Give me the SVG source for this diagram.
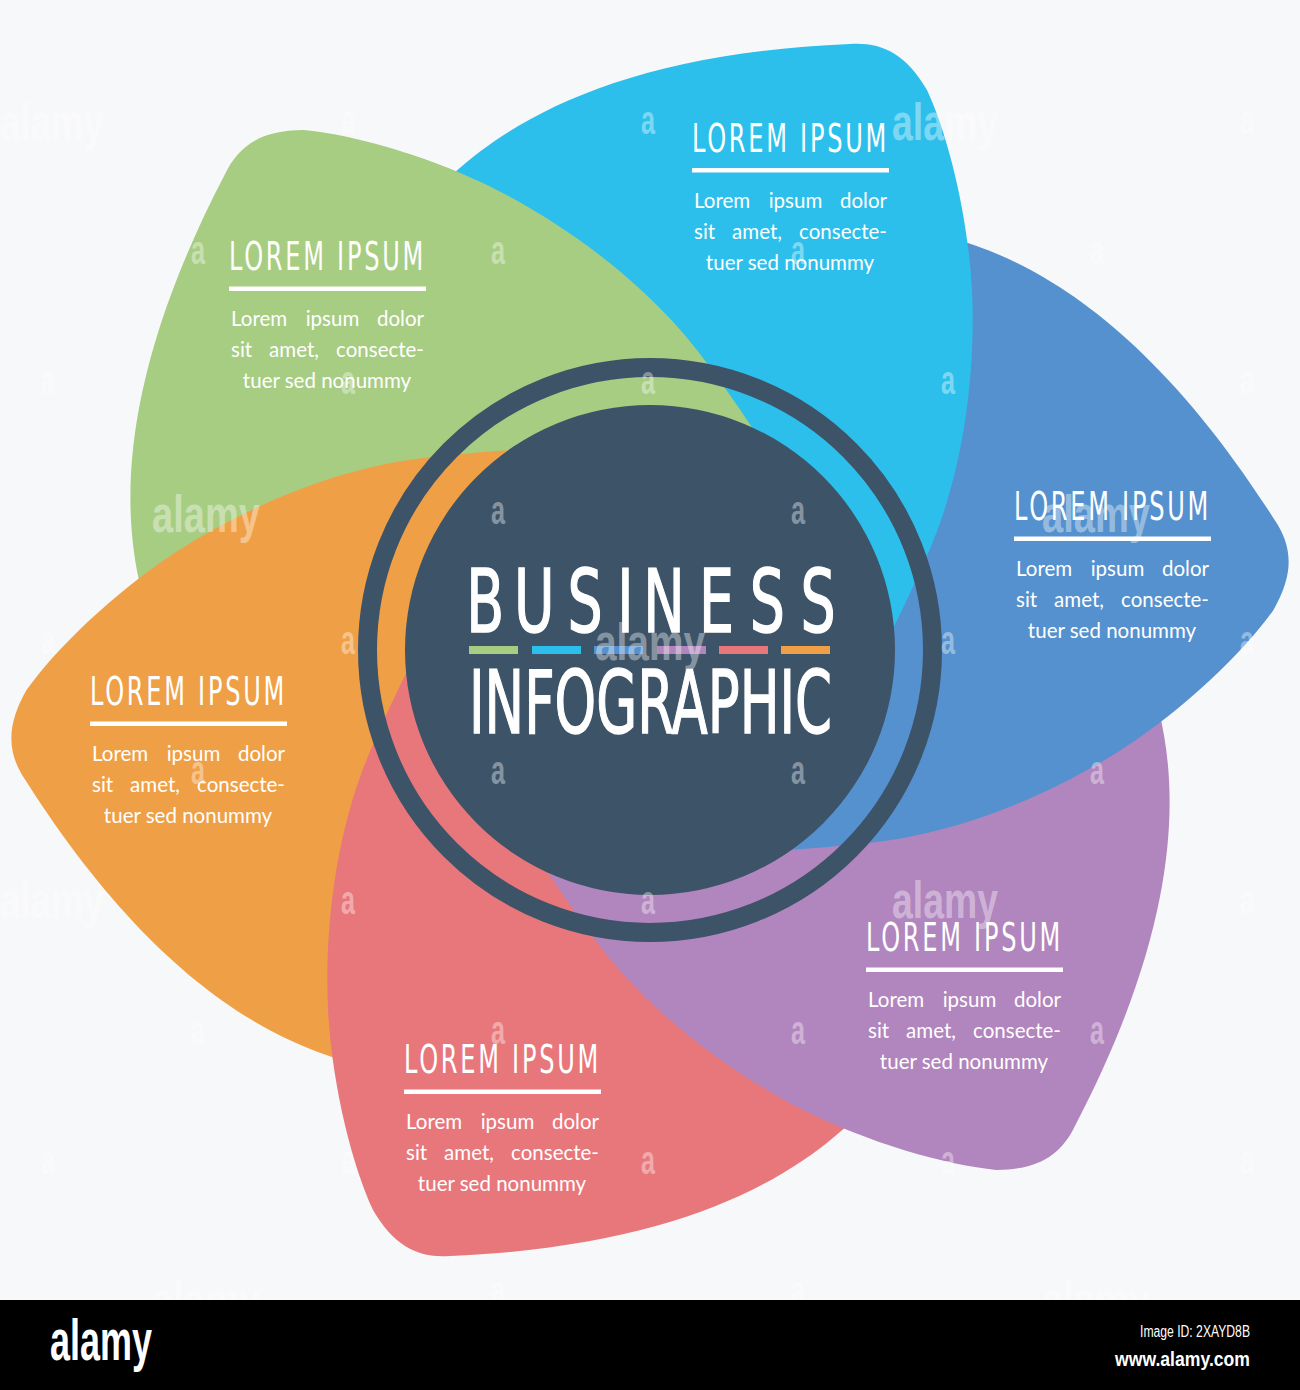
<svg xmlns="http://www.w3.org/2000/svg" width="1300" height="1390" viewBox="0 0 1300 1390">
<style>
.h{font-family:"Liberation Sans Narrow","DejaVu Sans Condensed","Liberation Sans",sans-serif;font-size:39px;fill:#fff;letter-spacing:4px}
.b{font-family:Lato,"Open Sans",sans-serif;font-size:20.5px;fill:#fff}
.u{fill:#fff}
.t{font-family:"Liberation Sans Narrow","DejaVu Sans Condensed","Liberation Sans",sans-serif;font-size:88px;fill:#fff;stroke:#fff;stroke-width:1.4px}
.wm{font-family:"Liberation Sans Narrow","Liberation Sans",sans-serif;font-weight:bold;fill:#fff;fill-opacity:.4}
.wa{font-size:40px;text-anchor:middle}
.wb{font-size:52px}
.ft{font-family:"Liberation Sans Narrow","Liberation Sans",sans-serif;fill:#fff}
</style>
<defs>
<path id="petal" d="M415,215 C475,140 590,55 850,44 C880,42 905,52 927,90 C948,135 968,215 972,290 C976,380 962,480 925,560 C905,605 880,660 850,700 L650,650 L540,330 Z"/>
<clipPath id="clipG"><polygon points="400,60 1000,60 1000,440 570,440 530,330 410,215"/></clipPath>
</defs>
<rect width="1300" height="1390" fill="#f7f8fa"/>

<g id="node-green">
<use href="#petal" transform="rotate(300 650 650)" fill="#a7cd83"/>
<text class="h" x="229" y="270" textLength="197" lengthAdjust="spacingAndGlyphs">LOREM IPSUM</text>
<rect class="u" x="229" y="286.5" width="197" height="4.5"/>
<text class="b" y="326"><tspan x="231">Lorem</tspan><tspan x="332.5" text-anchor="middle">ipsum</tspan><tspan x="424" text-anchor="end">dolor</tspan></text>
<text class="b" y="357"><tspan x="231">sit</tspan><tspan x="294" text-anchor="middle">amet,</tspan><tspan x="424" text-anchor="end">consecte-</tspan></text>
<text class="b" y="388" x="327" text-anchor="middle">tuer sed nonummy</text>
</g>

<g id="node-orange">
<use href="#petal" transform="rotate(240 650 650)" fill="#efa046"/>
<text class="h" x="90" y="705" textLength="197" lengthAdjust="spacingAndGlyphs">LOREM IPSUM</text>
<rect class="u" x="90" y="721.5" width="197" height="4.5"/>
<text class="b" y="761"><tspan x="92">Lorem</tspan><tspan x="193.5" text-anchor="middle">ipsum</tspan><tspan x="285" text-anchor="end">dolor</tspan></text>
<text class="b" y="792"><tspan x="92">sit</tspan><tspan x="155" text-anchor="middle">amet,</tspan><tspan x="285" text-anchor="end">consecte-</tspan></text>
<text class="b" y="823" x="188" text-anchor="middle">tuer sed nonummy</text>
</g>

<g id="node-red">
<use href="#petal" transform="rotate(180 650 650)" fill="#e8777b"/>
<text class="h" x="404" y="1073" textLength="197" lengthAdjust="spacingAndGlyphs">LOREM IPSUM</text>
<rect class="u" x="404" y="1089.5" width="197" height="4.5"/>
<text class="b" y="1129"><tspan x="406">Lorem</tspan><tspan x="507.5" text-anchor="middle">ipsum</tspan><tspan x="599" text-anchor="end">dolor</tspan></text>
<text class="b" y="1160"><tspan x="406">sit</tspan><tspan x="469" text-anchor="middle">amet,</tspan><tspan x="599" text-anchor="end">consecte-</tspan></text>
<text class="b" y="1191" x="502" text-anchor="middle">tuer sed nonummy</text>
</g>

<g id="node-purple">
<use href="#petal" transform="rotate(120 650 650)" fill="#b185bd"/>
<text class="h" x="866" y="951" textLength="197" lengthAdjust="spacingAndGlyphs">LOREM IPSUM</text>
<rect class="u" x="866" y="967.5" width="197" height="4.5"/>
<text class="b" y="1007"><tspan x="868">Lorem</tspan><tspan x="969.5" text-anchor="middle">ipsum</tspan><tspan x="1061" text-anchor="end">dolor</tspan></text>
<text class="b" y="1038"><tspan x="868">sit</tspan><tspan x="931" text-anchor="middle">amet,</tspan><tspan x="1061" text-anchor="end">consecte-</tspan></text>
<text class="b" y="1069" x="964" text-anchor="middle">tuer sed nonummy</text>
</g>

<g id="node-blue">
<use href="#petal" transform="rotate(60 650 650)" fill="#5591ce"/>
<text class="h" x="1014" y="520" textLength="197" lengthAdjust="spacingAndGlyphs">LOREM IPSUM</text>
<rect class="u" x="1014" y="536.5" width="197" height="4.5"/>
<text class="b" y="576"><tspan x="1016">Lorem</tspan><tspan x="1117.5" text-anchor="middle">ipsum</tspan><tspan x="1209" text-anchor="end">dolor</tspan></text>
<text class="b" y="607"><tspan x="1016">sit</tspan><tspan x="1079" text-anchor="middle">amet,</tspan><tspan x="1209" text-anchor="end">consecte-</tspan></text>
<text class="b" y="638" x="1112" text-anchor="middle">tuer sed nonummy</text>
</g>

<g id="node-cyan">
<use href="#petal" fill="#2dbfeb"/>
<text class="h" x="692" y="152" textLength="197" lengthAdjust="spacingAndGlyphs">LOREM IPSUM</text>
<rect class="u" x="692" y="168" width="197" height="4.5"/>
<text class="b" y="208"><tspan x="694">Lorem</tspan><tspan x="795.5" text-anchor="middle">ipsum</tspan><tspan x="887" text-anchor="end">dolor</tspan></text>
<text class="b" y="239"><tspan x="694">sit</tspan><tspan x="757" text-anchor="middle">amet,</tspan><tspan x="887" text-anchor="end">consecte-</tspan></text>
<text class="b" y="270" x="790" text-anchor="middle">tuer sed nonummy</text>
</g>

<g id="green-over-cyan" clip-path="url(#clipG)">
<use href="#petal" transform="rotate(300 650 650)" fill="#a7cd83"/>
</g>

<g id="center">
<circle cx="650" cy="650" r="282.5" fill="none" stroke="#3d5368" stroke-width="19"/>
<circle cx="650" cy="650" r="245" fill="#3d5368"/>
<text class="t" transform="scale(0.7,1)" y="632" x="666.1 734.3 810.9 881.9 918.9 998.6 1070.9 1143.7">BUSINESS</text>
<rect x="469" y="646" width="49" height="8" fill="#a7cd83"/>
<rect x="532" y="646" width="49" height="8" fill="#2dbfeb"/>
<rect x="594" y="646" width="49" height="8" fill="#5591ce"/>
<rect x="657" y="646" width="49" height="8" fill="#b185bd"/>
<rect x="719" y="646" width="49" height="8" fill="#e8777b"/>
<rect x="781" y="646" width="49" height="8" fill="#efa046"/>
<text class="t" x="469" y="733" textLength="363" lengthAdjust="spacingAndGlyphs">INFOGRAPHIC</text>
</g>

<g id="watermark">
<text class="wm wa" x="348" y="134" textLength="14" lengthAdjust="spacingAndGlyphs">a</text>
<text class="wm wa" x="648" y="134" textLength="14" lengthAdjust="spacingAndGlyphs">a</text>
<text class="wm wa" x="1247" y="134" textLength="14" lengthAdjust="spacingAndGlyphs">a</text>
<text class="wm wa" x="198" y="264" textLength="14" lengthAdjust="spacingAndGlyphs">a</text>
<text class="wm wa" x="498" y="264" textLength="14" lengthAdjust="spacingAndGlyphs">a</text>
<text class="wm wa" x="798" y="264" textLength="14" lengthAdjust="spacingAndGlyphs">a</text>
<text class="wm wa" x="1097" y="264" textLength="14" lengthAdjust="spacingAndGlyphs">a</text>
<text class="wm wa" x="48" y="394" textLength="14" lengthAdjust="spacingAndGlyphs">a</text>
<text class="wm wa" x="348" y="394" textLength="14" lengthAdjust="spacingAndGlyphs">a</text>
<text class="wm wa" x="648" y="394" textLength="14" lengthAdjust="spacingAndGlyphs">a</text>
<text class="wm wa" x="948" y="394" textLength="14" lengthAdjust="spacingAndGlyphs">a</text>
<text class="wm wa" x="1247" y="394" textLength="14" lengthAdjust="spacingAndGlyphs">a</text>
<text class="wm wa" x="498" y="524" textLength="14" lengthAdjust="spacingAndGlyphs">a</text>
<text class="wm wa" x="798" y="524" textLength="14" lengthAdjust="spacingAndGlyphs">a</text>
<text class="wm wa" x="48" y="654" textLength="14" lengthAdjust="spacingAndGlyphs">a</text>
<text class="wm wa" x="348" y="654" textLength="14" lengthAdjust="spacingAndGlyphs">a</text>
<text class="wm wa" x="948" y="654" textLength="14" lengthAdjust="spacingAndGlyphs">a</text>
<text class="wm wa" x="1247" y="654" textLength="14" lengthAdjust="spacingAndGlyphs">a</text>
<text class="wm wa" x="198" y="784" textLength="14" lengthAdjust="spacingAndGlyphs">a</text>
<text class="wm wa" x="498" y="784" textLength="14" lengthAdjust="spacingAndGlyphs">a</text>
<text class="wm wa" x="798" y="784" textLength="14" lengthAdjust="spacingAndGlyphs">a</text>
<text class="wm wa" x="1097" y="784" textLength="14" lengthAdjust="spacingAndGlyphs">a</text>
<text class="wm wa" x="348" y="914" textLength="14" lengthAdjust="spacingAndGlyphs">a</text>
<text class="wm wa" x="648" y="914" textLength="14" lengthAdjust="spacingAndGlyphs">a</text>
<text class="wm wa" x="1247" y="914" textLength="14" lengthAdjust="spacingAndGlyphs">a</text>
<text class="wm wa" x="198" y="1044" textLength="14" lengthAdjust="spacingAndGlyphs">a</text>
<text class="wm wa" x="498" y="1044" textLength="14" lengthAdjust="spacingAndGlyphs">a</text>
<text class="wm wa" x="798" y="1044" textLength="14" lengthAdjust="spacingAndGlyphs">a</text>
<text class="wm wa" x="1097" y="1044" textLength="14" lengthAdjust="spacingAndGlyphs">a</text>
<text class="wm wa" x="48" y="1174" textLength="14" lengthAdjust="spacingAndGlyphs">a</text>
<text class="wm wa" x="348" y="1174" textLength="14" lengthAdjust="spacingAndGlyphs">a</text>
<text class="wm wa" x="648" y="1174" textLength="14" lengthAdjust="spacingAndGlyphs">a</text>
<text class="wm wa" x="948" y="1174" textLength="14" lengthAdjust="spacingAndGlyphs">a</text>
<text class="wm wa" x="1247" y="1174" textLength="14" lengthAdjust="spacingAndGlyphs">a</text>
<text class="wm wa" x="498" y="1304" textLength="14" lengthAdjust="spacingAndGlyphs">a</text>
<text class="wm wa" x="798" y="1304" textLength="14" lengthAdjust="spacingAndGlyphs">a</text>
<text class="wm wb" x="0" y="140" textLength="104" lengthAdjust="spacingAndGlyphs">alamy</text>
<text class="wm wb" x="892" y="140" textLength="106" lengthAdjust="spacingAndGlyphs">alamy</text>
<text class="wm wb" x="152" y="532" textLength="108" lengthAdjust="spacingAndGlyphs">alamy</text>
<text class="wm wb" x="1042" y="532" textLength="108" lengthAdjust="spacingAndGlyphs">alamy</text>
<text class="wm wb" x="595" y="660" textLength="110" lengthAdjust="spacingAndGlyphs">alamy</text>
<text class="wm wb" x="0" y="918" textLength="104" lengthAdjust="spacingAndGlyphs">alamy</text>
<text class="wm wb" x="892" y="918" textLength="106" lengthAdjust="spacingAndGlyphs">alamy</text>
<text class="wm wb" x="152" y="1318" textLength="108" lengthAdjust="spacingAndGlyphs">alamy</text>
<text class="wm wb" x="1042" y="1318" textLength="108" lengthAdjust="spacingAndGlyphs">alamy</text>
</g>

<g id="footer">
<rect x="0" y="1300" width="1300" height="90" fill="#000"/>
<text class="ft" x="50" y="1360" font-size="58" font-weight="bold" textLength="102" lengthAdjust="spacingAndGlyphs">alamy</text>
<text class="ft" x="1140" y="1337" font-size="16" textLength="110" lengthAdjust="spacingAndGlyphs">Image ID: 2XAYD8B</text>
<text class="ft" x="1115" y="1366" font-size="20" font-weight="bold" textLength="135" lengthAdjust="spacingAndGlyphs">www.alamy.com</text>
</g>
</svg>
